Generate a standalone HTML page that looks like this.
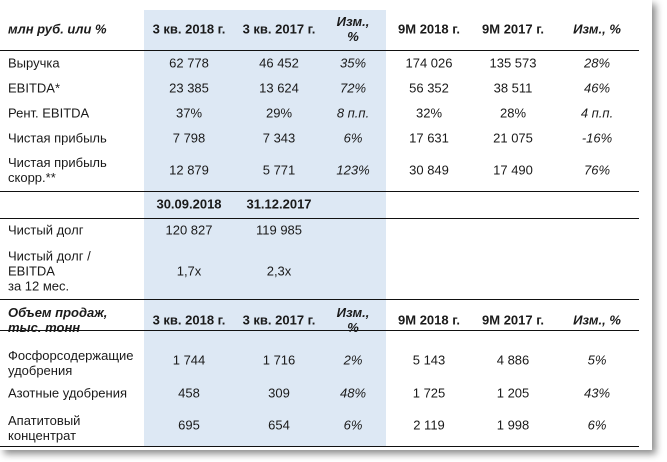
<!DOCTYPE html>
<html><head><meta charset="utf-8">
<style>
body{margin:0;width:667px;height:462px;background:#fff;overflow:hidden;font-family:"Liberation Sans",Arial,sans-serif;color:#1a1a1a}
#card{position:absolute;left:0;top:0;width:652px;height:450px;background:#fff;box-shadow:4px 4px 7px rgba(0,0,0,0.45)}
.band{position:absolute;left:144px;top:10px;width:242px;height:437px;background:#dde8f4}
.hl{position:absolute;left:0;width:639px;height:0;border-top:1.5px solid #111}
.t{position:absolute;font-size:13px;line-height:15px;white-space:nowrap;transform:translate(-50%,-50%)}
.l{position:absolute;font-size:13px;line-height:15px;left:8px;transform:translateY(-50%)}
.b{font-weight:bold}.i{font-style:italic}
</style></head><body>
<div id="card">
<div class="band"></div>
<div class="hl" style="top:50px"></div>
<div class="hl" style="top:191px;width:639px"></div>
<div class="hl" style="top:218px"></div>
<div class="hl" style="top:299px"></div>
<div class="hl" style="top:330px"></div>
<div class="hl" style="top:446px"></div>

<div class="l b i" style="top:29px">млн руб. или %</div>
<div class="t b" style="left:189px;top:29px">3 кв. 2018 г.</div>
<div class="t b" style="left:279px;top:29px">3 кв. 2017 г.</div>
<div class="t b i" style="left:353px;top:29px;text-align:center">Изм.,<br>%</div>
<div class="t b" style="left:429px;top:29px">9M 2018 г.</div>
<div class="t b" style="left:513px;top:29px">9M 2017 г.</div>
<div class="t b i" style="left:597px;top:29px">Изм., %</div>

<div id="rows"></div>

<div class="t b" style="left:189px;top:204px">30.09.2018</div>
<div class="t b" style="left:279px;top:204px">31.12.2017</div>

<div class="l b i" style="top:320px">Объем продаж,<br>тыс. тонн</div>
<div class="t b" style="left:189px;top:320px">3 кв. 2018 г.</div>
<div class="t b" style="left:279px;top:320px">3 кв. 2017 г.</div>
<div class="t b i" style="left:353px;top:320px;text-align:center">Изм.,<br>%</div>
<div class="t b" style="left:429px;top:320px">9M 2018 г.</div>
<div class="t b" style="left:513px;top:320px">9M 2017 г.</div>
<div class="t b i" style="left:597px;top:320px">Изм., %</div>
</div>
<script>
const rowLabels=["Выручка","EBITDA*","Рент. EBITDA","Чистая прибыль","Чистая прибыль<br>скорр.**","Чистый долг","Чистый долг /<br>EBITDA<br>за 12 мес.","Фосфорсодержащие<br>удобрения","Азотные удобрения","Апатитовый<br>концентрат"];
const rowY=[63,88,113,138,170,230,271,363,393,428];
const q2018=["62 778","23 385","37%","7 798","12 879","120 827","1,7x","1 744","458","695"];
const q2017=["46 452","13 624","29%","7 343","5 771","119 985","2,3x","1 716","309","654"];
const qChg=["35%","72%","8 п.п.","6%","123%","","","2%","48%","6%"];
const m2018=["174 026","56 352","32%","17 631","30 849","","","5 143","1 725","2 119"];
const m2017=["135 573","38 511","28%","21 075","17 490","","","4 886","1 205","1 998"];
const mChg=["28%","46%","4 п.п.","-16%","76%","","","5%","43%","6%"];
const colX=[189,279,353,429,513,597];
const card=document.getElementById('card');
rowLabels.forEach((lab,r)=>{
  const d=document.createElement('div');
  d.className='l';d.style.top=rowY[r]+'px';d.innerHTML=lab;
  
  
  card.appendChild(d);
  const vals=[q2018[r],q2017[r],qChg[r],m2018[r],m2017[r],mChg[r]];
  vals.forEach((v,c)=>{
    if(!v)return;
    const e=document.createElement('div');
    e.className='t'+((c===2||c===5)?' i':'');
    e.style.left=colX[c]+'px';e.style.top=(r>=7&&r!==8?rowY[r]-3:rowY[r])+'px';
    e.textContent=v;
    
    
    card.appendChild(e);
  });
});
</script>
</body></html>
